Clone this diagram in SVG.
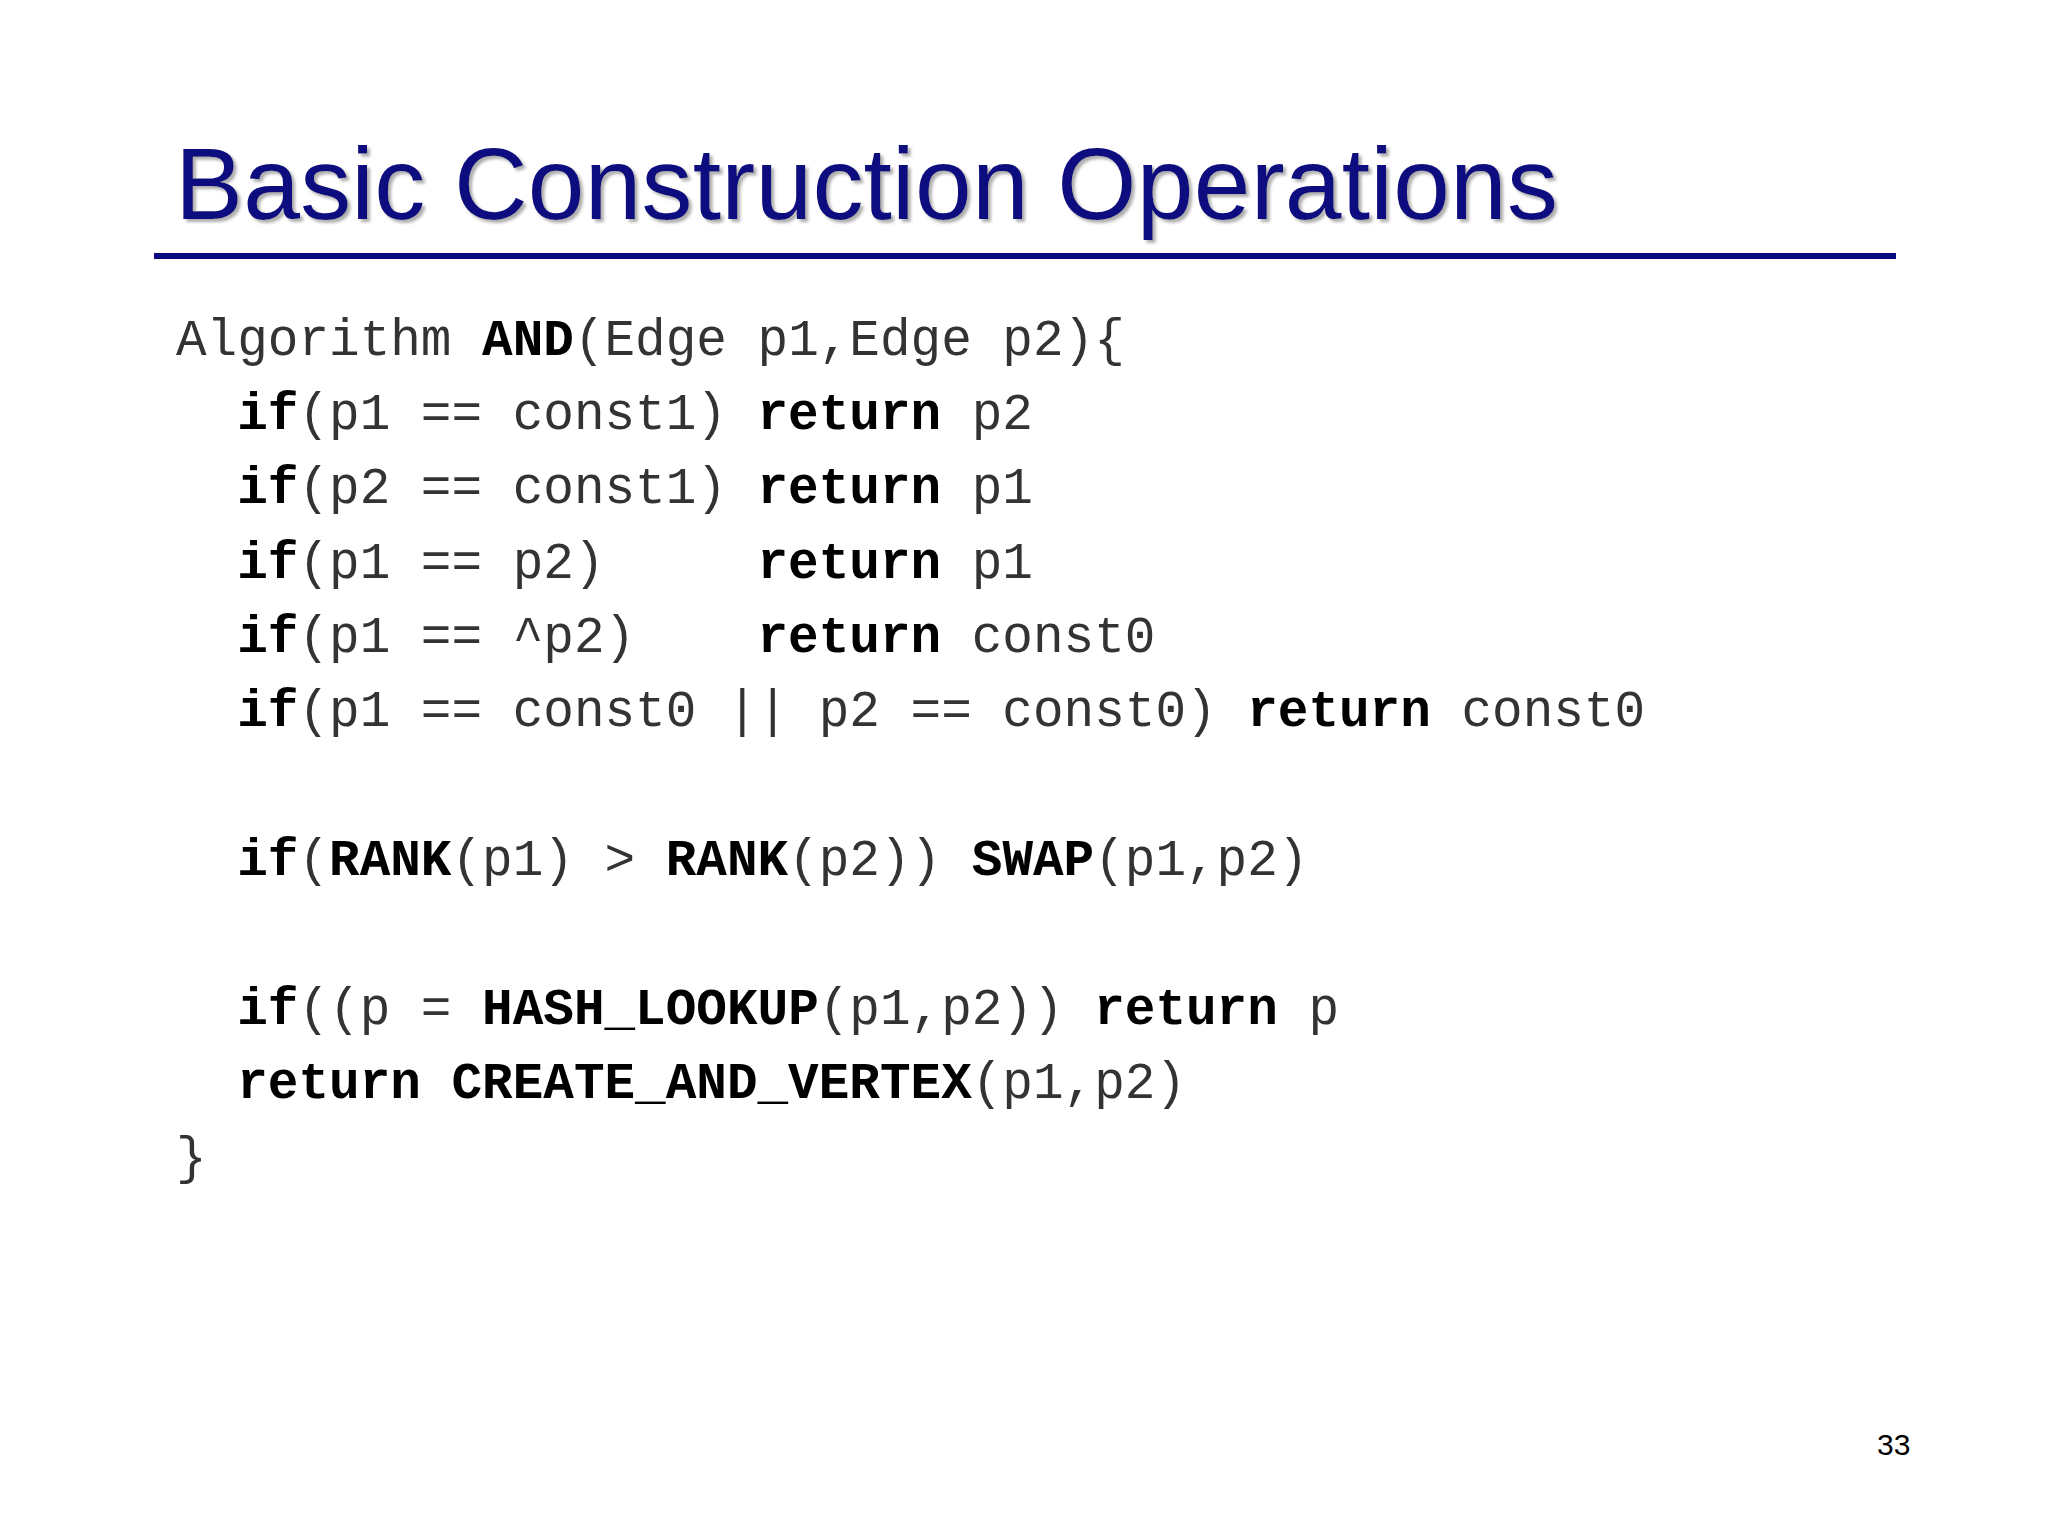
<svg xmlns="http://www.w3.org/2000/svg" width="2048" height="1536" viewBox="0 0 2048 1536">
<style>
.code text{font-family:"Liberation Mono","Courier New",monospace;font-size:51px;fill:#333;white-space:pre}
.b{font-weight:bold;fill:#000}
</style>
<defs><filter id="sh"><feDropShadow dx="3" dy="3" stdDeviation="1.5" flood-color="#999" flood-opacity="0.8"/></filter></defs>
<rect width="2048" height="1536" fill="#fff"/>
<g id="title">
<text x="175" y="219" font-family="Liberation Sans, Arial, sans-serif" font-size="102" fill="#0a0a80" filter="url(#sh)" textLength="1383">Basic Construction Operations</text>
<rect x="154" y="253" width="1742" height="6" fill="#0a0a80"/>
</g>
<g id="code" class="code">
<text xml:space="preserve" x="176" y="355">Algorithm <tspan class="b">AND</tspan>(Edge p1,Edge p2){</text>
<text xml:space="preserve" x="176" y="429">  <tspan class="b">if</tspan>(p1 == const1) <tspan class="b">return</tspan> p2</text>
<text xml:space="preserve" x="176" y="503">  <tspan class="b">if</tspan>(p2 == const1) <tspan class="b">return</tspan> p1</text>
<text xml:space="preserve" x="176" y="578">  <tspan class="b">if</tspan>(p1 == p2)     <tspan class="b">return</tspan> p1</text>
<text xml:space="preserve" x="176" y="652">  <tspan class="b">if</tspan>(p1 == ^p2)    <tspan class="b">return</tspan> const0</text>
<text xml:space="preserve" x="176" y="726">  <tspan class="b">if</tspan>(p1 == const0 || p2 == const0) <tspan class="b">return</tspan> const0</text>
<text xml:space="preserve" x="176" y="875">  <tspan class="b">if</tspan>(<tspan class="b">RANK</tspan>(p1) &gt; <tspan class="b">RANK</tspan>(p2)) <tspan class="b">SWAP</tspan>(p1,p2)</text>
<text xml:space="preserve" x="176" y="1024">  <tspan class="b">if</tspan>((p = <tspan class="b">HASH_LOOKUP</tspan>(p1,p2)) <tspan class="b">return</tspan> p</text>
<text xml:space="preserve" x="176" y="1098">  <tspan class="b">return</tspan> <tspan class="b">CREATE_AND_VERTEX</tspan>(p1,p2)</text>
<text xml:space="preserve" x="176" y="1173">}</text>
</g>
<text id="page" x="1877" y="1455" font-family="Liberation Sans, Arial, sans-serif" font-size="30" fill="#000">33</text>
</svg>
